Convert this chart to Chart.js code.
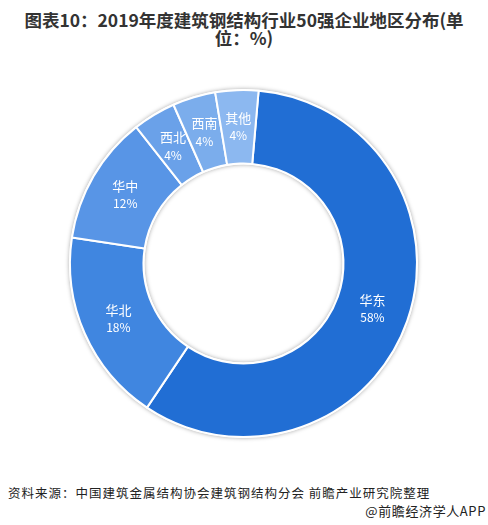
<!DOCTYPE html>
<html><head><meta charset="utf-8">
<script src="https://cdn.jsdelivr.net/npm/chart.js@4/dist/chart.umd.min.js"></script>
<style>
html,body{margin:0;padding:0;background:#fff;width:488px;height:525px;overflow:hidden;font-family:"Noto Sans CJK SC","Noto Sans",sans-serif;}
#title{position:absolute;left:0;top:11px;width:488px;text-align:center;font-weight:bold;font-size:17.5px;line-height:18px;color:#333;}
#src{position:absolute;left:8px;top:483px;font-size:12.5px;letter-spacing:1px;color:#222;white-space:nowrap;}
#app{position:absolute;right:2px;top:501px;font-size:13px;letter-spacing:0.6px;color:#222;white-space:nowrap;}
#wrap{position:absolute;left:59px;top:79px;width:369px;height:369px;}
</style></head>
<body>
<div id="title">图表10：2019年度建筑钢结构行业50强企业地区分布(单<br>位：%)</div>
<div id="wrap"><canvas id="c" width="369" height="369"></canvas></div>
<div id="src">资料来源：中国建筑金属结构协会建筑钢结构分会 前瞻产业研究院整理</div>
<div id="app">@前瞻经济学人APP</div>
<script>
const categories = ["华东","华北","华中","西北","西南","其他"];
const shares = [58,18,12,4,4,4];
const colors = ["#216ed4","#4086e0","#5895e6","#6aa1e9","#7badec","#8cb8f0"];

const shadowPlugin = {
  id:'ringShadow',
  beforeDatasetsDraw(chart){
    const arc = chart.getDatasetMeta(0).data[0];
    if(!arc) return;
    const {x,y,outerRadius,innerRadius} = arc.getProps(['x','y','outerRadius','innerRadius'],true);
    const ctx = chart.ctx;
    ctx.save();
    ctx.shadowColor='rgba(0,0,0,0.35)';
    ctx.shadowBlur=4;
    ctx.fillStyle='#ffffff';
    ctx.beginPath();
    ctx.arc(x,y,outerRadius+1,0,Math.PI*2);
    ctx.arc(x,y,innerRadius-1,0,Math.PI*2,true);
    ctx.fill();
    ctx.restore();
  }
};
const labelPlugin = {
  id:'sliceLabels',
  afterDatasetsDraw(chart){
    const ctx = chart.ctx;
    const meta = chart.getDatasetMeta(0);
    ctx.save();
    ctx.fillStyle='#ffffff';
    ctx.textAlign='center';
    ctx.textBaseline='middle';
    meta.data.forEach((a,i)=>{
      const p = a.tooltipPosition();
      ctx.font='13px "Noto Sans CJK SC", sans-serif';
      ctx.fillText(categories[i], p.x, p.y-9);
      ctx.font='12px "Noto Sans CJK SC", sans-serif';
      ctx.fillText(shares[i]+'%', p.x, p.y+9);
    });
    ctx.restore();
  }
};
new Chart(document.getElementById('c'),{
  type:'doughnut',
  data:{labels:categories,datasets:[{data:shares,backgroundColor:colors,borderColor:'#ffffff',borderWidth:2,hoverOffset:0}]},
  options:{
    responsive:false,maintainAspectRatio:false,animation:false,
    rotation:5,cutout:100,
    layout:{padding:10},
    plugins:{legend:{display:false},tooltip:{enabled:false},title:{display:false}}
  },
  plugins:[shadowPlugin,labelPlugin]
});
</script>
</body></html>
